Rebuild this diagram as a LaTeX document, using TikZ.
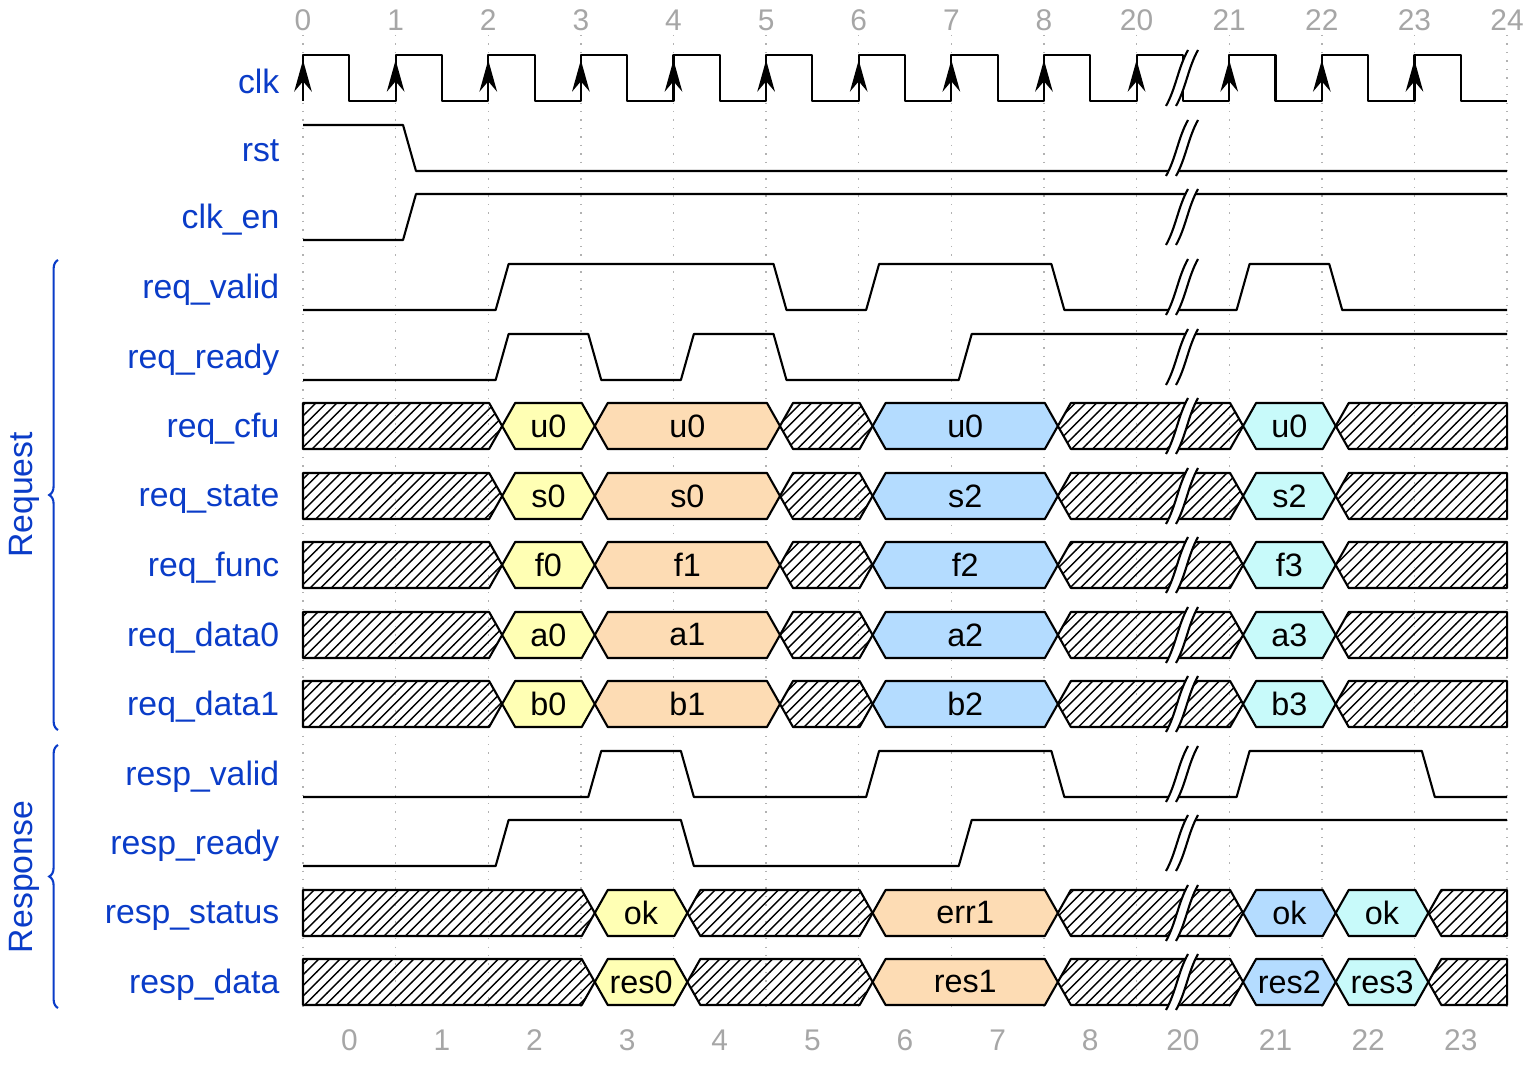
\documentclass[tikz,border=0pt]{standalone}
\usepackage{fontspec}
\setmainfont{Liberation Sans}
\usetikzlibrary{patterns,decorations.pathreplacing,arrows.meta}
\definecolor{lblue}{HTML}{0A3CC8}
\definecolor{cy}{HTML}{FFFFB4}
\definecolor{co}{HTML}{FDDCB4}
\definecolor{cb}{HTML}{B4DCFF}
\definecolor{cc}{HTML}{C8FAFA}
\begin{document}
\begin{tikzpicture}[x=0.01cm,y=-0.01cm,
  declare function={X(\t)=303+92.62*\t;},
  wire/.style={line width=0.6pt,line join=round},
  lab/.style={anchor=east,text=lblue,font=\fontsize{9.6}{10}\selectfont,inner sep=0pt},
  tick/.style={text=gray!70,font=\fontsize{8.5}{9}\selectfont,inner sep=0pt},
  btxt/.style={font=\fontsize{9.2}{10}\selectfont,inner sep=0pt},
  hatch/.style={pattern=north east lines},
  brk/.style={lblue,line width=0.6pt,decorate,decoration={brace,amplitude=2.5pt}},
]
\useasboundingbox (0,0) rectangle (1536,1067);
% grid
\foreach \i in {0,...,13} \draw[gray!60,dotted,line width=0.4pt] ({X(\i)},35)--({X(\i)},1012);
% tick labels
\foreach \l [count=\i from 0] in {0,1,2,3,4,5,6,7,8,20,21,22,23,24}
  \node[tick] (top\i) at ({X(\i)},20) {\l};
\foreach \l [count=\i from 0] in {0,1,2,3,4,5,6,7,8,20,21,22,23}
  \node[tick] (bot\i) at ({X(\i+0.5)},1040) {\l};
% labels
\foreach \n/\y [count=\k] in {clk/78,rst/148,clk\_en/217,req\_valid/287,req\_ready/357,req\_cfu/426,req\_state/496,req\_func/565,req\_data0/635,req\_data1/704,resp\_valid/774,resp\_ready/843,resp\_status/913,resp\_data/982}
  \node[lab] (lab\k) at (280,\y+3) {\n};
% braces
\draw[brk] (58,730)--(58,260);
\node[text=lblue,rotate=90,font=\fontsize{9.6}{10}\selectfont] (req) at (24,495) {Request};
\draw[brk] (58,1008)--(58,745);
\node[text=lblue,rotate=90,font=\fontsize{9.6}{10}\selectfont] (resp) at (24,877) {Response};
% clock
\draw[wire] ({X(0)},101) \foreach \i in {0,...,12} { -- ({X(\i)},101) -- ({X(\i)},55) -- ({X(\i+0.5)},55) -- ({X(\i+0.5)},101) } -- ({X(13)},101);
\foreach \i in {0,...,12} \draw[line width=0.6pt,-{Stealth[length=9pt,width=5pt]}] ({X(\i)},95)--({X(\i)},60);
% rst / clk_en
\draw[wire] ({X(0)},125)--({X(1.08)},125)--({X(1.22)},171)--({X(13)},171);
\draw[wire] ({X(0)},240)--({X(1.08)},240)--({X(1.22)},194)--({X(13)},194);
% req_valid
\draw[wire] ({X(0)},310)--({X(2.08)},310)--({X(2.22)},264)--({X(5.08)},264)--({X(5.22)},310)--({X(6.08)},310)--({X(6.22)},264)--({X(8.08)},264)--({X(8.22)},310)--({X(10.08)},310)--({X(10.22)},264)--({X(11.08)},264)--({X(11.22)},310)--({X(13)},310);
% req_ready
\draw[wire] ({X(0)},380)--({X(2.08)},380)--({X(2.22)},334)--({X(3.08)},334)--({X(3.22)},380)--({X(4.08)},380)--({X(4.22)},334)--({X(5.08)},334)--({X(5.22)},380)--({X(7.08)},380)--({X(7.22)},334)--({X(13)},334);
% resp_valid
\draw[wire] ({X(0)},797)--({X(3.08)},797)--({X(3.22)},751)--({X(4.08)},751)--({X(4.22)},797)--({X(6.08)},797)--({X(6.22)},751)--({X(8.08)},751)--({X(8.22)},797)--({X(10.08)},797)--({X(10.22)},751)--({X(12.08)},751)--({X(12.22)},797)--({X(13)},797);
% resp_ready
\draw[wire] ({X(0)},866)--({X(2.08)},866)--({X(2.22)},820)--({X(4.08)},820)--({X(4.22)},866)--({X(7.08)},866)--({X(7.22)},820)--({X(13)},820);
% buses
\newcommand\busseg[5]{%
  \pgfmathsetmacro\xa{X(#1)}\pgfmathsetmacro\xb{X(#2)}%
  \pgfmathsetmacro\da{ifthenelse(#1==0,0,13)}\pgfmathsetmacro\db{ifthenelse(#2==13,0,13)}%
  \draw[wire,#3] (\xa,#5) -- (\xa+\da,#5-23) -- (\xb-\db,#5-23) -- (\xb,#5) -- (\xb-\db,#5+23) -- (\xa+\da,#5+23) -- cycle;
  \node[btxt] (b#5x#1) at ({(\xa+\xb)/2},#5) {#4};}
\foreach \y/\ta/\tb/\tc/\td in {426/u0/u0/u0/u0,496/s0/s0/s2/s2,565/f0/f1/f2/f3,635/a0/a1/a2/a3,704/b0/b1/b2/b3}{
  \busseg{0}{2.15}{hatch}{}{\y}
  \busseg{2.15}{3.15}{fill=cy}{\ta}{\y}
  \busseg{3.15}{5.15}{fill=co}{\tb}{\y}
  \busseg{5.15}{6.15}{hatch}{}{\y}
  \busseg{6.15}{8.15}{fill=cb}{\tc}{\y}
  \busseg{8.15}{10.15}{hatch}{}{\y}
  \busseg{10.15}{11.15}{fill=cc}{\td}{\y}
  \busseg{11.15}{13}{hatch}{}{\y}
}
\foreach \y/\ta/\tb/\tc/\td in {913/ok/err1/ok/ok,982/res0/res1/res2/res3}{
  \busseg{0}{3.15}{hatch}{}{\y}
  \busseg{3.15}{4.15}{fill=cy}{\ta}{\y}
  \busseg{4.15}{6.15}{hatch}{}{\y}
  \busseg{6.15}{8.15}{fill=co}{\tb}{\y}
  \busseg{8.15}{10.15}{hatch}{}{\y}
  \busseg{10.15}{11.15}{fill=cb}{\tc}{\y}
  \busseg{11.15}{12.15}{fill=cc}{\td}{\y}
  \busseg{12.15}{13}{hatch}{}{\y}
}
% breaks
\foreach \y in {78,148,217,287,357,426,496,565,635,704,774,843,913,982}{
  \fill[white] (1166,\y+28) .. controls (1176,\y+10) and (1178,\y-10) .. (1188,\y-28) -- (1198,\y-28) .. controls (1188,\y-10) and (1186,\y+10) .. (1176,\y+28) -- cycle;
  \draw[line width=0.6pt] (1166,\y+28) .. controls (1176,\y+10) and (1178,\y-10) .. (1188,\y-28);
  \draw[line width=0.6pt] (1176,\y+28) .. controls (1186,\y+10) and (1188,\y-10) .. (1198,\y-28);
}
\end{tikzpicture}
\end{document}
